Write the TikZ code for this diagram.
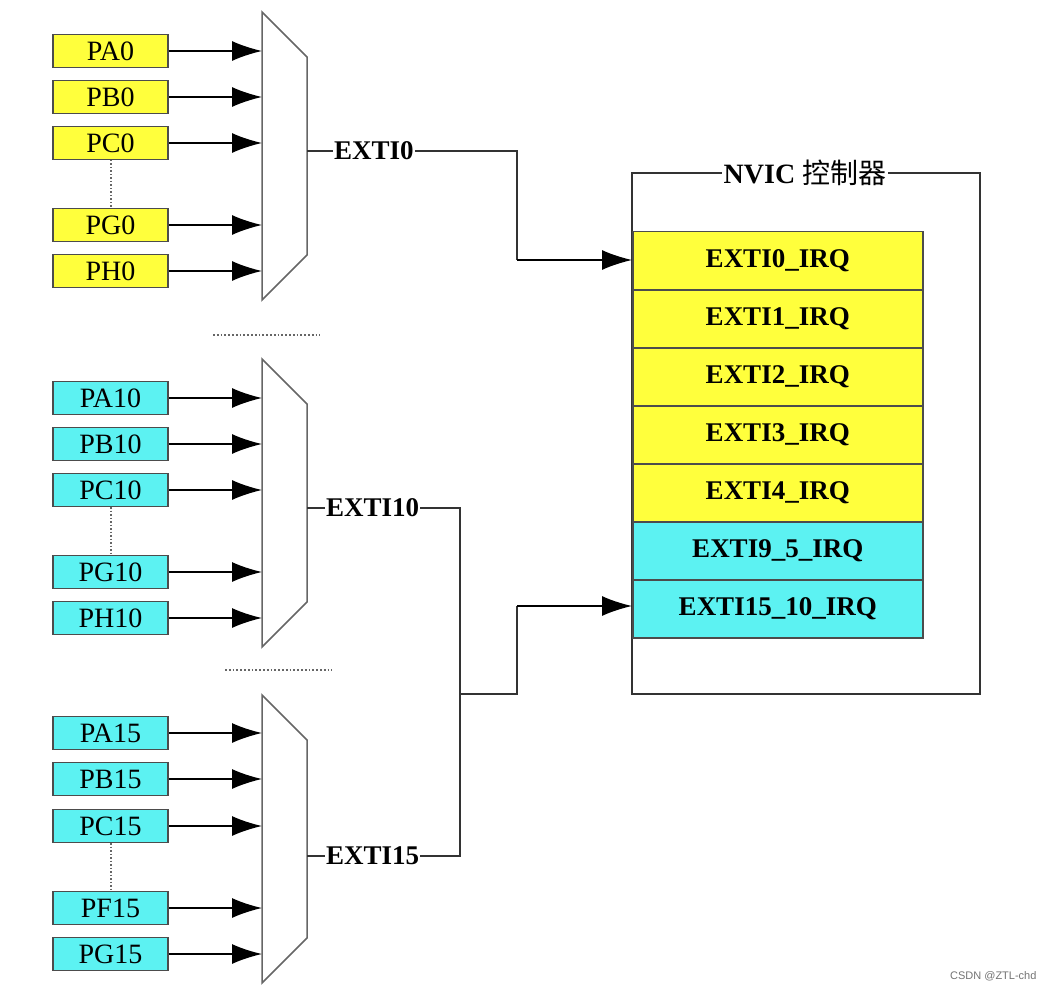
\documentclass[tikz,border=0pt]{standalone}
\usepackage{fontspec}
\setmainfont{Liberation Serif}
\newfontfamily\cjk{Noto Sans CJK SC}
\newfontfamily\sans{Liberation Sans}
\usetikzlibrary{arrows.meta}
\definecolor{yel}{HTML}{FFFF3C}
\definecolor{cy}{HTML}{5CF2F2}
\begin{document}
\begin{tikzpicture}[x=1pt,y=-1pt,
  pin/.style={draw=black!70,line width=1.6pt,minimum width=115pt,minimum height=33pt,inner sep=0pt,font=\fontsize{28}{28}\selectfont},
  irq/.style={draw=black!70,line width=1.5pt,minimum width=290pt,minimum height=58pt,inner sep=0pt,font=\bfseries\fontsize{27}{27}\selectfont},
  arr/.style={-{Latex[length=30pt,width=20pt]},line width=1.5pt},
  lab/.style={font=\bfseries\fontsize{27}{27}\selectfont,inner sep=1pt},
  mux/.style={draw=black!60,line width=1.5pt,fill=white},
  ln/.style={line width=1.5pt,black!80}]
\useasboundingbox (0,0) rectangle (1054,992);
\foreach \g/\c/\ya/\yb/\yc/\yd/\ye/\na/\nb/\nc/\nd/\ne/\top in {
  1/yel/51/97/143/225/271/PA0/PB0/PC0/PG0/PH0/12,
  2/cy/398/444/490/572/618/PA10/PB10/PC10/PG10/PH10/359,
  3/cy/733/779/826/908/954/PA15/PB15/PC15/PF15/PG15/695}{
  \draw[mux] (262,\top) coordinate (mt\g) -- (307,\top+45) -- (307,\top+243) -- (262,\top+288) -- cycle;
  \draw[dotted,line width=1.5pt,black!60] (111,\yc+17) -- (111,\yd-17);
  \foreach \y/\n/\k in {\ya/\na/a,\yb/\nb/b,\yc/\nc/c,\yd/\nd/d,\ye/\ne/e}{
    \node[pin,fill=\c] (p\g\k) at (110.5,\y) {\n};
    \coordinate (m\g\k) at (262,\y);
    \draw[arr] (p\g\k.east) -- (m\g\k);
  }
}
\draw[dotted,line width=1.8pt,black!60] (213,335) -- (320,335);
\draw[dotted,line width=1.8pt,black!60] (225,670) -- (332,670);
\node[lab,anchor=west] (e0) at (333,151) {EXTI0};
\node[lab,anchor=west] (e10) at (325,508) {EXTI10};
\node[lab,anchor=west] (e15) at (325,856) {EXTI15};
\draw[ln] (307,151) -- (e0.west);
\draw[ln] (307,508) -- (e10.west);
\draw[ln] (307,856) -- (e15.west);
\draw[ln] (632,173) rectangle (980,694);
\node[fill=white,font=\bfseries\fontsize{28}{28}\selectfont,inner sep=2pt] (nt) at (805,173) {NVIC {\cjk\mdseries 控制器}};
\foreach \i/\t/\c in {0/EXTI0\_IRQ/yel,1/EXTI1\_IRQ/yel,2/EXTI2\_IRQ/yel,3/EXTI3\_IRQ/yel,4/EXTI4\_IRQ/yel,5/EXTI9\_5\_IRQ/cy,6/EXTI15\_10\_IRQ/cy}{
  \node[irq,fill=\c,anchor=north west] (q\i) at (632,231+58*\i) {\t};
}
\coordinate (j1) at (517,151);
\draw[ln] (e0.east) -- (j1) -- (517,260);
\draw[arr] (517,260) -- (632,260);
\coordinate (j2) at (460,694);
\draw[ln] (e10.east) -- (460,508) -- (460,856) -- (e15.east);
\draw[ln] (j2) -- (517,694) -- (517,606);
\draw[arr] (517,606) -- (632,606);
\node[font=\sans\fontsize{11}{11}\selectfont,text=black!55,anchor=east] (wm) at (1040,976) {CSDN @ZTL-chd};
\end{tikzpicture}
\end{document}
